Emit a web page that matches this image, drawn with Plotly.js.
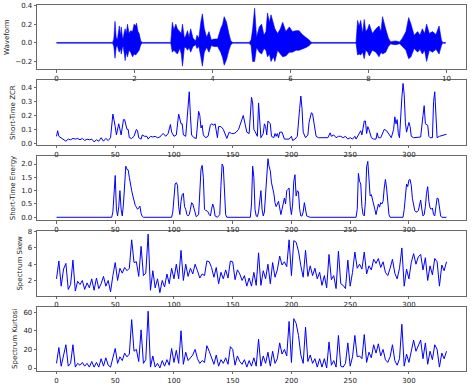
<!DOCTYPE html>
<html>
<head>
<meta charset="utf-8">
<script src="https://cdn.plot.ly/plotly-3.0.1.min.js"></script>
<style>html,body{margin:0;padding:0;background:#fff;}#chart{width:474px;height:384px;}</style>
</head>
<body>
<div id="chart"></div>
<script>
// ---------- Data ----------
// Waveform envelope (seconds, upper, lower)
var waveT = [0,1.44,1.47,1.50,1.53,1.56,1.59,1.61,1.64,1.66,1.69,1.71,1.74,1.76,1.79,1.82,1.86,1.90,1.95,1.99,2.03,2.05,2.09,2.12,2.16,2.2,
  2.93,2.97,3.01,3.06,3.1,3.16,3.2,3.23,3.28,3.32,3.36,3.4,3.44,3.5,3.57,3.6,3.65,3.7,3.74,3.79,3.85,3.91,3.97,4.04,4.13,4.21,4.26,4.3,4.36,4.42,4.47,4.52,
  4.94,4.99,5.03,5.08,5.13,5.2,5.26,5.32,5.37,5.41,5.46,5.5,5.56,5.6,5.67,5.74,5.8,5.88,5.97,6.05,6.14,6.22,6.3,6.4,6.48,6.52,6.56,
  7.68,7.72,7.76,7.8,7.85,7.89,7.93,7.98,8.02,8.1,8.19,8.27,8.32,8.36,8.44,8.51,8.57,8.6,8.7,8.8,
  8.87,8.96,9.03,9.09,9.17,9.26,9.32,9.38,9.44,9.49,9.56,9.64,9.73,9.81,9.87,9.9,9.98];
var waveUpper = [.004,.004,.04,.23,.06,.03,.12,.18,.08,.17,.06,.05,.12,.15,.10,.20,.10,.13,.12,.20,.18,.21,.12,.10,.02,.004,
  .004,.22,.14,.20,.15,.12,.10,.20,.05,.08,.13,.06,.15,.05,.02,.08,.05,.22,.31,.15,.06,.12,.03,.04,.04,.15,.20,.28,.22,.10,.02,.004,
  .004,.03,.15,.37,.06,.17,.20,.08,.12,.32,.22,.30,.20,.15,.10,.15,.22,.12,.17,.12,.13,.13,.09,.06,.03,.01,.004,
  .004,.24,.18,.24,.10,.25,.12,.15,.20,.10,.15,.18,.12,.28,.15,.05,.01,.015,.02,.01,
  .05,.12,.27,.20,.08,.12,.08,.15,.10,.20,.10,.12,.09,.18,.03,.004,.004];
var waveLower = [-.004,-.004,-.04,-.165,-.05,-.03,-.08,-.10,-.06,-.12,-.05,-.04,-.12,-.19,-.10,-.15,-.08,-.10,-.15,-.12,-.13,-.12,-.10,-.08,-.02,-.004,
  -.004,-.10,-.08,-.10,-.12,-.06,-.12,-.25,-.05,-.05,-.08,-.05,-.10,-.04,-.02,-.06,-.04,-.15,-.25,-.10,-.05,-.10,-.03,-.04,-.04,-.10,-.16,-.24,-.18,-.08,-.02,-.004,
  -.004,-.03,-.20,-.20,-.05,-.10,-.12,-.06,-.08,-.15,-.12,-.20,-.15,-.20,-.08,-.12,-.15,-.14,-.10,-.10,-.08,-.08,-.07,-.05,-.03,-.01,-.004,
  -.004,-.13,-.12,-.13,-.10,-.17,-.08,-.10,-.14,-.08,-.10,-.15,-.10,-.12,-.10,-.04,-.01,-.015,-.02,-.01,
  -.04,-.08,-.17,-.15,-.06,-.10,-.07,-.12,-.08,-.20,-.08,-.10,-.07,-.12,-.03,-.004,-.004];

// Short-time ZCR (frame, value)
var zcrFrame = [0,1,2,4,6,8,10,12,14,16,18,20,22,24,26,28,30,32,34,36,38,40,42,44,46,48,50,51,53,54,55,57,58,60,61,62,64,66,68,69,70,72,73,75,77,78,80,82,84,86,88,90,91,93,95,97,98,100,102,104,105,106,107,108,110,112,113,114,115,117,119,121,122,123,124,125,127,129,131,132,134,135,137,138,140,142,144,145,147,149,151,153,155,157,159,160,162,164,165,166,167,168,169,171,172,173,174,176,177,178,179,180,182,183,185,186,187,188,189,190,192,194,196,198,200,201,203,205,207,208,209,210,212,214,215,217,218,220,221,223,225,227,229,231,233,234,236,238,240,242,244,246,248,250,252,254,255,257,259,260,262,263,264,265,266,268,270,272,273,274,276,277,279,281,283,285,287,288,289,290,291,292,294,295,296,297,298,300,301,302,304,306,308,310,312,313,314,316,317,318,320,321,322,323,324,326,328,330,332];
var zcrValue = [0.05,0.09,0.05,0.04,0.03,0.015,0.03,0.025,0.035,0.03,0.035,0.025,0.035,0.02,0.03,0.025,0.03,0.01,0.025,0.015,0.04,0.015,0.035,0.02,0.04,0.21,0.12,0.06,0.14,0.10,0.06,0.17,0.17,0.10,0.10,0.04,0.035,0.05,0.10,0.09,0.04,0.03,0.06,0.05,0.05,0.03,0.05,0.045,0.05,0.04,0.045,0.065,0.07,0.05,0.07,0.135,0.08,0.05,0.06,0.21,0.17,0.14,0.14,0.06,0.05,0.32,0.37,0.2,0.06,0.04,0.035,0.23,0.2,0.11,0.13,0.06,0.04,0.05,0.13,0.14,0.13,0.14,0.04,0.12,0.12,0.10,0.06,0.035,0.08,0.07,0.07,0.08,0.10,0.15,0.2,0.16,0.08,0.07,0.25,0.33,0.29,0.1,0.085,0.05,0.29,0.17,0.04,0.07,0.14,0.12,0.06,0.16,0.14,0.05,0.04,0.07,0.05,0.07,0.04,0.08,0.08,0.03,0.03,0.03,0.05,0.02,0.03,0.05,0.25,0.34,0.25,0.08,0.04,0.06,0.15,0.22,0.21,0.12,0.05,0.04,0.04,0.035,0.035,0.04,0.075,0.05,0.06,0.04,0.05,0.05,0.04,0.05,0.03,0.04,0.03,0.05,0.03,0.06,0.09,0.06,0.16,0.16,0.07,0.12,0.1,0.04,0.03,0.03,0.075,0.04,0.04,0.06,0.10,0.09,0.06,0.04,0.1,0.19,0.14,0.17,0.07,0.04,0.33,0.43,0.35,0.15,0.08,0.15,0.12,0.05,0.04,0.04,0.04,0.045,0.2,0.27,0.14,0.13,0.05,0.04,0.04,0.3,0.37,0.13,0.04,0.05,0.055,0.055,0.065];

// Short-time energy (frame, value)
var energyFrame = [0,47,48,49,50,51,52,53,54,55,56,57,58,59,60,61,62,63,64,65,66,67,68,69,70,71,72,73,74,98,99,100,101,102,103,104,105,106,107,108,109,110,111,112,113,114,115,116,117,118,119,121,122,123,124,125,126,127,128,129,130,131,132,133,134,135,137,139,140,141,142,143,144,145,165,166,167,168,169,170,171,172,173,174,175,176,177,178,179,180,181,182,183,184,185,186,187,188,189,190,191,192,193,194,195,196,197,198,199,200,201,202,203,204,205,206,207,208,209,210,211,212,213,214,216,255,256,257,258,259,260,261,262,263,264,265,266,267,268,269,270,271,272,273,274,275,276,277,278,279,280,281,282,283,284,295,296,297,298,299,300,301,302,303,304,305,306,307,308,309,310,311,312,313,314,315,316,317,318,319,320,321,322,323,324,325,326,327,328,332];
var energyValue = [0,0,0.2,1.2,1.57,0.3,0.05,0.4,1.0,0.3,0.05,0.5,1.5,1.92,1.8,1.78,1.5,1.2,1.0,0.8,0.6,0.45,0.38,0.3,0.35,0.42,0.15,0.03,0,0,0.2,0.9,1.25,1.3,1.2,0.4,0.1,0.6,0.85,0.9,0.4,0.3,0.1,0.05,0.1,0.3,0.55,0.5,0.3,0.1,0.02,0.1,0.8,1.8,1.95,1.5,0.3,0.25,0.25,0.2,0.1,0.05,0.3,0.5,0.35,0.05,0,0.1,1.2,2.0,1.9,0.8,0.1,0,0,0.5,1.92,1.5,0.3,0.05,0.02,0.2,0.7,1.0,0.3,0.05,0.2,0.9,1.8,2.2,1.9,1.75,1.3,1.1,0.9,0.55,0.4,0.5,0.6,0.35,0.1,0.3,0.6,0.72,0.5,1.0,1.05,1.1,0.4,0.1,0.5,1.35,1.6,0.8,1.0,0.95,0.3,0.05,0.05,0.2,0.55,0.2,0.05,0.03,0,0,0.3,1.65,1.35,1.25,0.4,0.1,0.05,0.6,1.9,2.1,1.6,0.8,0.85,0.7,0.5,0.3,0.1,0.25,0.5,0.38,0.55,0.5,0.6,1.1,1.42,1.1,0.5,0.1,0,0,0.3,1.0,1.25,1.15,1.4,1.42,1.2,0.7,0.4,0.25,0.2,0.2,0.25,0.5,0.65,0.3,0.05,0.1,0.4,0.9,1.15,0.6,0.35,0.3,0.35,0.1,0.05,0.4,0.72,0.7,0.4,0.05,0,0];

// Spectrum skew and kurtosis, every second frame from 0 to 332
var featureStep = 2;
var skewValue = [2.2,4.4,1.3,3.4,4.1,0.9,1.5,4.5,0.7,1.9,1.5,2.0,0.9,1.7,1.1,2.2,0.8,2.3,1.0,1.6,2.5,1.3,2.0,0.6,2.6,4.2,2.0,3.5,2.9,3.6,3.2,3.5,7.0,4.2,4.3,2.5,6.2,2.6,2.9,7.7,0.8,3.2,1.1,2.2,0.5,2.0,1.2,2.8,1.6,3.5,2.2,4.0,2.2,5.7,2.0,4.0,2.5,3.5,2.8,4.0,3.2,2.3,2.8,2.6,4.4,4.3,3.6,2.4,3.6,1.6,3.0,2.2,3.3,2.3,4.4,4.3,2.1,3.3,2.8,2.0,2.6,1.3,2.3,1.3,3.0,1.4,5.4,1.4,3.2,2.2,4.0,1.6,4.2,2.4,3.3,5.0,3.9,4.3,3.7,7.0,2.6,6.9,6.7,5.6,3.8,2.4,5.7,2.5,3.8,2.6,3.5,2.2,3.0,1.4,2.6,1.1,5.2,2.1,2.6,1.0,5.6,1.6,1.4,1.0,4.5,1.3,3.0,5.5,3.5,4.0,3.4,5.5,2.8,3.8,3.3,4.6,4.1,4.7,3.6,4.3,3.0,2.6,3.5,4.6,2.9,2.2,3.5,6.0,1.3,3.4,2.2,4.2,5.3,4.0,4.9,5.2,3.3,4.8,2.0,3.8,2.7,4.7,4.3,1.3,3.9,3.2,4.3];
var kurtValue = [5,22,2,14,25,2,5,25,1,5,3,6,2,5,1,7,1,6,1,10,2,11,3,1,10,21,5,12,8,16,12,15,52,18,20,7,41,5,9,61,1,13,1,5,0,8,2,9,3,21,6,19,5,40,4,17,8,11,14,20,10,5,8,6,24,18,12,4,14,2,9,5,11,4,23,20,3,13,7,4,9,1,8,2,11,2,31,2,13,5,17,2,18,5,10,27,15,20,13,50,6,53,48,35,14,5,44,7,14,5,10,1,10,1,10,0,28,3,8,1,35,2,1,5,27,2,12,35,12,13,10,36,6,17,11,25,16,26,13,20,9,6,12,25,8,3,10,47,2,15,6,17,30,18,24,30,10,27,4,18,9,25,20,1,16,10,18];

// Tick values
var waveTicks = [0,2,4,6,8,10];
var frameTicks = [0,50,100,150,200,250,300];
var yLabels = ["Waveform","Short-Time ZCR","Short-Time Energy","Spectrum Skew","Spectrum Kurtosi"];

// ---------- Build ----------
var skewFrame = skewValue.map(function(_, i){ return i * featureStep; });
var kurtFrame = kurtValue.map(function(_, i){ return i * featureStep; });

var blue = '#0000ff';
var traces = [
  {x: waveT, y: waveUpper, xaxis:'x', yaxis:'y', mode:'lines', line:{color:blue, width:0.6}, hoverinfo:'skip'},
  {x: waveT, y: waveLower, xaxis:'x', yaxis:'y', mode:'lines', fill:'tonexty', fillcolor:blue, line:{color:blue, width:0.6}, hoverinfo:'skip'},
  {x: zcrFrame, y: zcrValue, xaxis:'x2', yaxis:'y2', mode:'lines', line:{color:blue, width:1}},
  {x: energyFrame, y: energyValue, xaxis:'x3', yaxis:'y3', mode:'lines', line:{color:blue, width:1}},
  {x: skewFrame, y: skewValue, xaxis:'x4', yaxis:'y4', mode:'lines', line:{color:blue, width:1}},
  {x: kurtFrame, y: kurtValue, xaxis:'x5', yaxis:'y5', mode:'lines', line:{color:blue, width:1}}
];

var font = {family:'DejaVu Sans, sans-serif', size:7, color:'#222'};
function xax(anchor, ticks, range){
  return {anchor:anchor, domain:[0,1], range:range, tickvals:ticks, ticktext:ticks.map(String),
    showline:true, mirror:true, linecolor:'#444', linewidth:0.8, ticks:'outside', ticklen:2.5, tickwidth:0.8, tickcolor:'#444',
    tickfont:font, showgrid:false, zeroline:false, fixedrange:true};
}
function yax(anchor, domain, range, ticks, fmt, label){
  return {anchor:anchor, domain:domain, range:range, tickvals:ticks,
    ticktext:ticks.map(function(v){ var s = fmt(v); return v < 0 ? '\u2212' + s.replace('-','') : s; }),
    showline:true, mirror:true, linecolor:'#444', linewidth:0.8, ticks:'outside', ticklen:2.5, tickwidth:0.8, tickcolor:'#444',
    tickfont:font, showgrid:false, zeroline:false, fixedrange:true,
    title:{text:label, font:font, standoff:4}};
}
var f1 = function(v){ return v.toFixed(1); };
var f0 = function(v){ return String(v); };
var frameRange = [-16.6, 348.6];

var layout = {
  width:474, height:384, margin:{l:37, r:8, t:5, b:13},
  paper_bgcolor:'#fff', plot_bgcolor:'#fff', showlegend:false,
  font:font,
  xaxis: xax('y', waveTicks, [-0.5, 10.5]),
  yaxis: yax('x', [0.824, 1], [-0.285, 0.405], [-0.2,0,0.2,0.4], f1, yLabels[0]),
  xaxis2: xax('y2', frameTicks, frameRange),
  yaxis2: yax('x2', [0.618, 0.794], [-0.011, 0.452], [0,0.1,0.2,0.3,0.4], f1, yLabels[1]),
  xaxis3: xax('y3', frameTicks, frameRange),
  yaxis3: yax('x3', [0.412, 0.588], [-0.11, 2.31], [0,0.5,1,1.5,2], f1, yLabels[2]),
  xaxis4: xax('y4', frameTicks, frameRange),
  yaxis4: yax('x4', [0.206, 0.382], [0.14, 8.06], [2,4,6,8], f0, yLabels[3]),
  xaxis5: xax('y5', frameTicks, frameRange),
  yaxis5: yax('x5', [0, 0.176], [-3.2, 66], [0,20,40,60], f0, yLabels[4])
};

Plotly.newPlot('chart', traces, layout, {displayModeBar:false, staticPlot:true});
</script>
</body>
</html>
